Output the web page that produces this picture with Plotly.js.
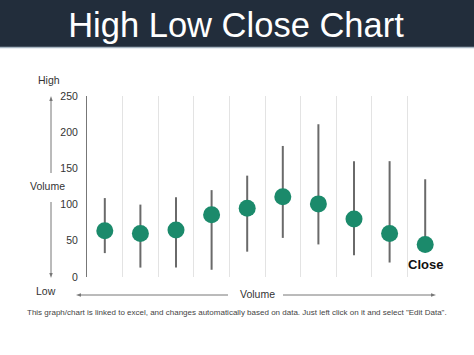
<!DOCTYPE html>
<html>
<head>
<meta charset="utf-8">
<script src="https://cdn.plot.ly/plotly-3.0.1.min.js"></script>
<style>html,body{margin:0;padding:0;background:#fff;}#chart{width:474px;height:355px;}</style>
</head>
<body>
<div id="chart"></div>
<script>
const categories = ["1","2","3","4","5","6","7","8","9","10"];
const highValues = [109, 100, 110, 120, 140, 181, 211, 160, 160, 135];
const lowValues = [33, 13, 13, 10, 35, 54, 45, 30, 20, 42];
const closeValues = [64, 60, 65, 86, 95, 111, 101, 80, 60, 45];
const yTickValues = [0, 50, 100, 150, 200, 250];

const W = 474, H = 355;
const M = {l: 87, r: 31, t: 96, b: 78};
const pw = W - M.l - M.r, ph = H - M.t - M.b;
const px = x => (x - M.l) / pw;
const py = y => (H - M.b - y) / ph;

const trace = {
  x: categories,
  y: closeValues,
  type: 'scatter',
  mode: 'markers',
  marker: {size: 17, color: '#1b8a6b'},
  error_y: {
    type: 'data', symmetric: false,
    array: highValues.map((h, i) => h - closeValues[i]),
    arrayminus: closeValues.map((c, i) => c - lowValues[i]),
    thickness: 2, width: 0, color: '#6a6a6a'
  },
  cliponaxis: false,
  hoverinfo: 'skip'
};

const gray = '#777';
const txt = '#333';
const layout = {
  width: W, height: H,
  margin: M,
  paper_bgcolor: '#fff', plot_bgcolor: '#fff',
  showlegend: false,
  font: {family: 'Liberation Sans, Arial, sans-serif', color: txt},
  title: {
    text: 'High Low Close Chart',
    font: {size: 34.5, color: '#ffffff', family: 'Liberation Sans, Arial, sans-serif'},
    x: 236 / W, xanchor: 'center', xref: 'container',
    y: 1 - 25 / H, yanchor: 'middle', yref: 'container'
  },
  xaxis: {
    type: 'category', tickson: 'boundaries',
    range: [-0.5, categories.length - 0.5],
    showticklabels: false, ticks: '',
    showgrid: true, gridcolor: '#e3e3e3', gridwidth: 1,
    showline: false, zeroline: false, fixedrange: true
  },
  yaxis: {
    range: [0, 250], tickvals: yTickValues,
    showgrid: false, zeroline: false,
    showline: true, linecolor: '#777', linewidth: 1,
    ticks: '', ticklabelstandoff: 6,
    tickfont: {size: 10.5, color: txt}, fixedrange: true
  },
  shapes: [
    {type: 'rect', xref: 'paper', yref: 'paper', x0: px(0), x1: px(W), y0: py(0), y1: py(47),
     fillcolor: '#222d3b', line: {width: 0}, layer: 'below'},
    {type: 'line', xref: 'paper', yref: 'paper', x0: px(0), x1: px(W), y0: py(47.5), y1: py(47.5),
     line: {color: '#a8b6c2', width: 1.5}},
    {type: 'line', xref: 'paper', yref: 'paper', x0: px(51), x1: px(51), y0: py(100), y1: py(173),
     line: {color: gray, width: 1}},
    {type: 'line', xref: 'paper', yref: 'paper', x0: px(51), x1: px(51), y0: py(202), y1: py(274),
     line: {color: gray, width: 1}},
    {type: 'line', xref: 'paper', yref: 'paper', x0: px(80), x1: px(228), y0: py(295), y1: py(295),
     line: {color: gray, width: 1}},
    {type: 'line', xref: 'paper', yref: 'paper', x0: px(283), x1: px(432), y0: py(295), y1: py(295),
     line: {color: gray, width: 1}},
    {type: 'path', xref: 'paper', yref: 'paper', fillcolor: gray, line: {width: 0},
     path: `M ${px(51)} ${py(96)} L ${px(49.3)} ${py(101)} L ${px(52.7)} ${py(101)} Z`},
    {type: 'path', xref: 'paper', yref: 'paper', fillcolor: gray, line: {width: 0},
     path: `M ${px(51)} ${py(278)} L ${px(49.3)} ${py(273)} L ${px(52.7)} ${py(273)} Z`},
    {type: 'path', xref: 'paper', yref: 'paper', fillcolor: gray, line: {width: 0},
     path: `M ${px(76)} ${py(295)} L ${px(81)} ${py(293.3)} L ${px(81)} ${py(296.7)} Z`},
    {type: 'path', xref: 'paper', yref: 'paper', fillcolor: gray, line: {width: 0},
     path: `M ${px(436)} ${py(295)} L ${px(431)} ${py(293.3)} L ${px(431)} ${py(296.7)} Z`}
  ],
  annotations: [
    {text: 'High', xref: 'paper', yref: 'paper', x: px(49), y: py(80), showarrow: false,
     font: {size: 10.5, color: txt}, xanchor: 'center', yanchor: 'middle'},
    {text: 'Volume', xref: 'paper', yref: 'paper', x: px(47), y: py(186), showarrow: false,
     font: {size: 10.5, color: txt}, xanchor: 'center', yanchor: 'middle'},
    {text: 'Low', xref: 'paper', yref: 'paper', x: px(46), y: py(291), showarrow: false,
     font: {size: 10.5, color: txt}, xanchor: 'center', yanchor: 'middle'},
    {text: 'Volume', xref: 'paper', yref: 'paper', x: px(257), y: py(294), showarrow: false,
     font: {size: 10.5, color: txt}, xanchor: 'center', yanchor: 'middle'},
    {text: 'Close', xref: 'x', yref: 'paper', x: categories.length - 1, y: py(264), showarrow: false,
     font: {size: 13, color: '#111', family: 'Liberation Sans, Arial, sans-serif', weight: 'bold'},
     xanchor: 'center', yanchor: 'middle'},
    {text: 'This graph/chart is linked to excel, and changes automatically based on data. Just left click on it and select "Edit Data".',
     xref: 'paper', yref: 'paper', x: px(237), y: py(312), showarrow: false,
     font: {size: 8, color: '#444'}, xanchor: 'center', yanchor: 'middle'}
  ]
};

Plotly.newPlot('chart', [trace], layout, {displayModeBar: false, staticPlot: true});
</script>
</body>
</html>
